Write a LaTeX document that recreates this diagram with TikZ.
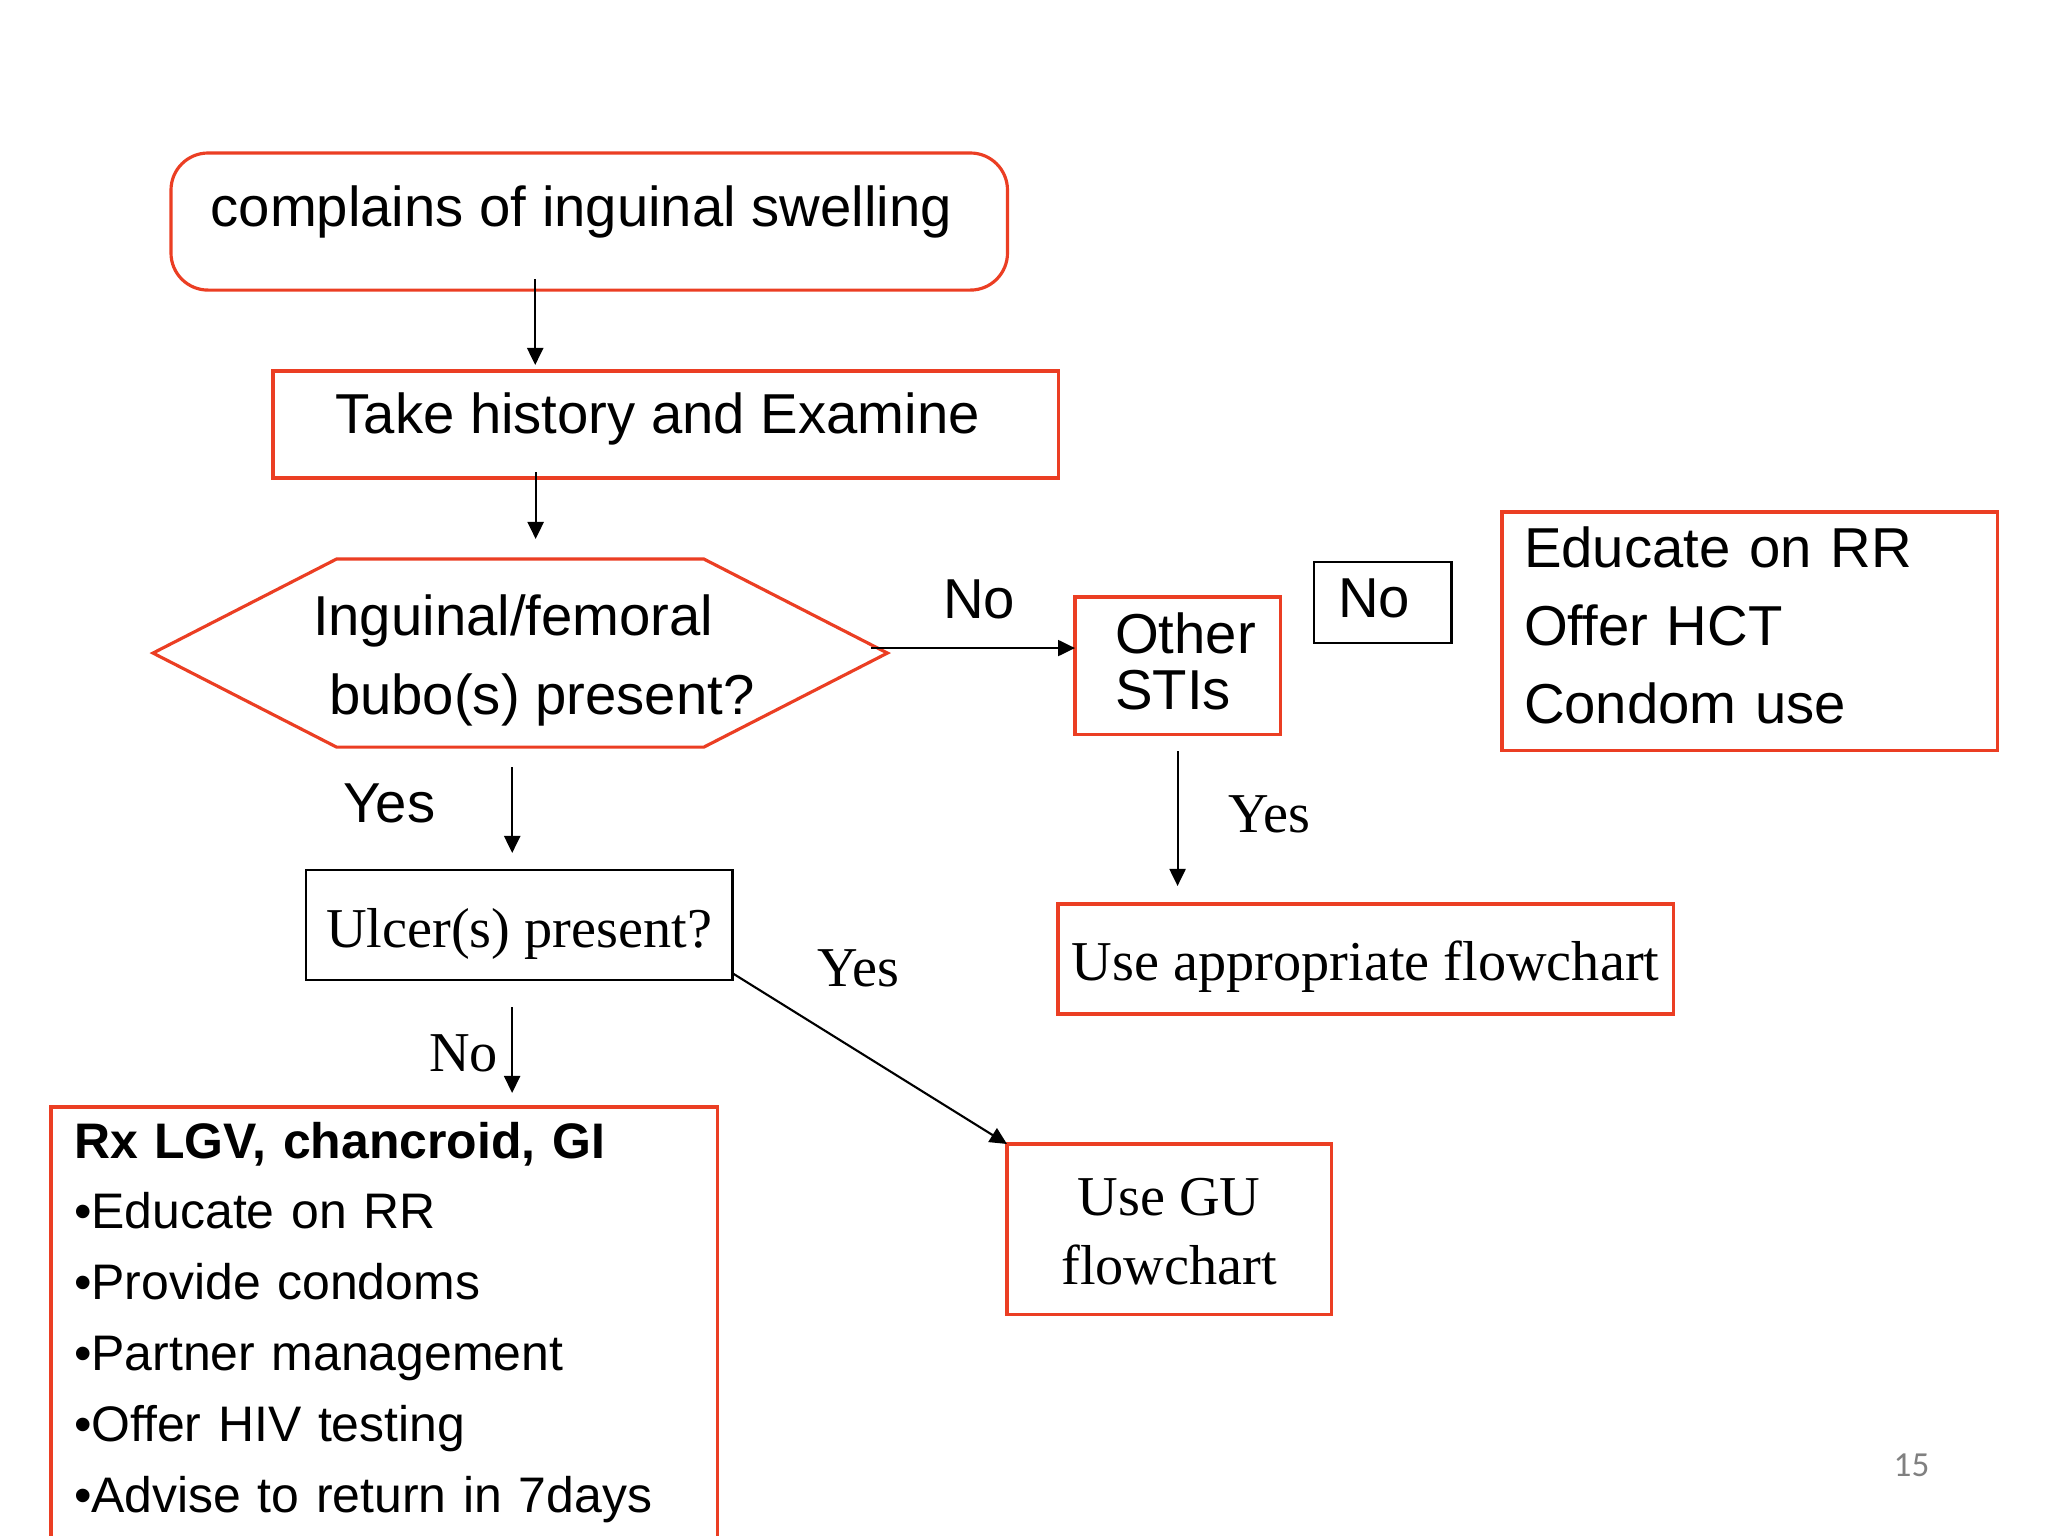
\documentclass[tikz,border=0pt]{standalone}
\usepackage{fontspec}
\setmainfont{Liberation Sans}
\newfontfamily\timesfont{Liberation Serif}
\newfontfamily\slidenumfont{Carlito}
\usepackage{xcolor}
\usetikzlibrary{arrows.meta,calc}
\definecolor{boxred}{RGB}{235,62,35}

\begin{document}
\begin{tikzpicture}[
    x=0.01cm, y=-0.01cm,
    box/.style={draw=boxred,line width=0.9pt,inner sep=0pt,outer sep=0pt,
                anchor=north west,font=\fontsize{16}{19}\selectfont},
    qbox/.style={box,draw=black,line width=0.8pt},
    lbl/.style={inner sep=0pt,font=\fontsize{16}{19}\selectfont},
    tlbl/.style={inner sep=0pt,font=\timesfont\fontsize{16}{19}\selectfont},
    arr/.style={-{Triangle[length=1.7mm,width=1.6mm]},line width=0.6pt}
  ]
  \useasboundingbox (0,0) rectangle (2048,1536);

  \node[box,rounded corners=0.37cm,minimum width=8.36cm,
        text height=0.73cm,text depth=0.64cm] (start) at (171,153)
        {complains of inguinal swelling\hspace*{0.16cm}};
  \node[box,minimum width=7.85cm,text height=0.62cm,text depth=0.45cm]
        (hist) at (273,371) {Take history and Examine\hspace*{0.16cm}};
  \node[box,draw=none,minimum width=7.34cm,align=left,
        text height=1.55cm,text depth=0.33cm,
        font=\fontsize{16}{22.4}\selectfont] (hex) at (153,559)
        {\hspace*{0.27cm}Inguinal/femoral\\\hspace*{0.43cm}bubo(s) present?};
  \draw[draw=boxred,line width=0.9pt] (hex.west)
        -- ($(hex.north west)!.25!(hex.north east)$)
        -- ($(hex.north west)!.75!(hex.north east)$)
        -- (hex.east)
        -- ($(hex.south west)!.75!(hex.south east)$)
        -- ($(hex.south west)!.25!(hex.south east)$) -- cycle;

  \node[box,minimum width=2.05cm,align=left,text height=1.12cm,text depth=0.25cm,
        font=\fontsize{16}{15.9}\selectfont] (other) at (1075,597)
        {\hspace*{0.16cm}Other\\\hspace*{0.16cm}STIs};
  \node[qbox,minimum width=1.37cm,text height=0.55cm,text depth=0.26cm]
        (nobox) at (1314,562) {No\hspace*{0.17cm}};
  \node[box,text width=4.51cm,inner xsep=0.22cm,align=left,
        text height=0.55cm,text depth=1.83cm,
        font=\fontsize{16}{22.2}\selectfont] (educ) at (1502,512)
        {Educate on RR\\Offer HCT\\Condom use};
  \node[box,minimum width=6.15cm,text height=0.76cm,text depth=0.34cm,
        font=\timesfont\fontsize{16}{19}\selectfont] (apprflow) at (1058,904)
        {Use appropriate flowchart};

  \node[qbox,minimum width=4.26cm,text height=0.77cm,text depth=0.33cm,
        font=\timesfont\fontsize{16}{19}\selectfont] (ulcer) at (306,870)
        {Ulcer(s) present?};
  \node[box,text width=6.2cm,inner xsep=0.23cm,align=left,
        text height=0.51cm,text depth=4.1cm,
        font=\fontsize{14.2}{20.15}\selectfont] (treat) at (51,1107)
        {\textbf{Rx LGV, chancroid, GI}\\
         •Educate on RR\\
         •Provide condoms\\
         •Partner management\\
         •Offer HIV testing\\
         •Advise to return in 7days};
  \node[box,minimum width=3.24cm,align=center,text height=1.40cm,text depth=0.30cm,
        font=\timesfont\fontsize{16}{19.6}\selectfont] (gu) at (1007,1144)
        {Use GU\\flowchart};

  \node[anchor=base west,inner sep=0pt,text=gray,
        font=\slidenumfont\fontsize{10}{12}\selectfont] (pagenum) at (1893,1476) {15};

  \draw[arr,shorten <=-0.11cm,shorten >=0.06cm] ([xshift=-0.54cm]start.south)
        -- ([xshift=-0.54cm]start.south |- hist.north);
  \draw[arr,shorten <=-0.06cm,shorten >=0.2cm] ([xshift=-1.3cm]hist.south)
        -- ([xshift=-1.3cm]hist.south |- hex.north);
  \draw[arr] ([xshift=-0.16cm,yshift=0.05cm]hex.east)
        -- node[lbl,pos=.53,anchor=base,yshift=0.3cm]{No}
        ([yshift=0.05cm]hex.east -| other.west);
  \draw[arr,shorten <=0.17cm,shorten >=0.18cm] (other.south)
        -- node[tlbl,pos=.58,anchor=base west,xshift=0.5cm]{Yes}
        (other.south |- apprflow.north);
  \draw[arr,shorten <=0.2cm,shorten >=0.17cm] ([xshift=-0.08cm]hex.south)
        -- node[lbl,pos=.61,anchor=base east,xshift=-0.76cm]{Yes}
        ([xshift=-0.08cm]hex.south |- ulcer.north);
  \draw[arr] ([yshift=0.07cm]ulcer.south east)
        -- node[tlbl,pos=.46,anchor=base,yshift=0.65cm]{Yes} (gu.north west);
  \draw[arr,shorten <=0.27cm,shorten >=0.14cm] ([xshift=-0.07cm]ulcer.south)
        -- node[tlbl,pos=.72,anchor=base east,xshift=-0.13cm]{No}
        ([xshift=-0.07cm]ulcer.south |- treat.north);
\end{tikzpicture}
\end{document}
